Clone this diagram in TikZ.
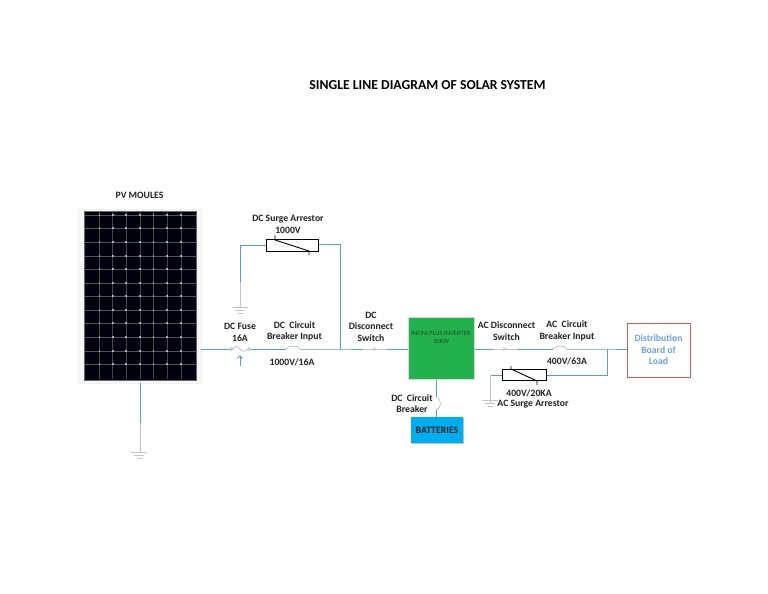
\documentclass[tikz,border=0pt]{standalone}
\usepackage{fontspec}
\setmainfont{Carlito}
\usetikzlibrary{arrows.meta,shadows,calc}
\definecolor{wire}{HTML}{5B9BD5}
\definecolor{gnd}{HTML}{C4C4C4}
\definecolor{ink}{HTML}{222222}
\definecolor{invgreen}{HTML}{22B14C}
\definecolor{batblue}{HTML}{00AEEF}
\definecolor{dbred}{HTML}{C0605A}
\definecolor{dbtext}{HTML}{6FA3D8}
\tikzset{
  lbl/.style={font=\bfseries\fontsize{9.7}{11.6}\selectfont,text=ink,align=center,inner sep=0pt},
  wireline/.style={draw=wire,line width=0.85pt},
  gndline/.style={draw=gnd,line width=0.8pt},
  switchline/.style={draw=gnd,line width=0.8pt},
  arrestor/.style={draw=black,line width=1pt,fill=white,inner sep=0pt,minimum height=11.5pt},
  softshadow/.style={drop shadow={shadow xshift=1.2pt,shadow yshift=-1.2pt,fill=black,opacity=.25}},
  panelgridv/.style={draw=white!28!black,line width=0.5pt},
  panelgridh/.style={draw=white!32!black,line width=0.5pt},
}
\begin{document}
\begin{tikzpicture}[x=1pt,y=-1pt]
\useasboundingbox[fill=white] (0,0) rectangle (768,594);

% title
\node[font=\bfseries\fontsize{13.7}{16}\selectfont,text=black,inner sep=0pt] (title) at (427.5,85) {SINGLE LINE DIAGRAM OF SOLAR SYSTEM};

% PV panel
\node[lbl] (pvlabel) at (139.5,195) {PV MOULES};
\node[draw=white!94!black,fill=white!97!black,line width=0.8pt,minimum width=123pt,minimum height=174pt,inner sep=0pt] (frame) at (139.5,296) {};
\node[fill=black!94!blue,draw=black!60,line width=1pt,minimum width=112pt,minimum height=169pt,inner sep=0pt] (pv) at (140.5,296) {};
\foreach \gx in {99.3,112.7,126,140,153.3,167,181}
  \draw[panelgridv] (\gx,212) -- (\gx,379);
\foreach \gy in {215,228,242,256,269,283,296,310,323,337,351,364}
  \draw[panelgridh] (85,\gy) -- (196,\gy);
\foreach \gx in {99.3,112.7,126,140,153.3,167,181}
  \foreach \gy in {215,228,242,256,269,283,296,310,323,337,351,364}
    \fill[white!68!black] (\gx-0.8,\gy-0.6) rectangle (\gx+0.8,\gy+0.6);

% coordinates on the DC line
\coordinate (pvout) at (201,349);
\coordinate (fuseL) at (231.5,349);
\coordinate (fuseR) at (249,349);
\coordinate (cbL) at (286,349);
\coordinate (cbR) at (300,349);
\coordinate (jdc) at (340,349);
\coordinate (swL) at (363,349);
\coordinate (swR) at (387,349);
\coordinate (pvbot) at (140,383);
\coordinate (pvmid) at (140,423);
\coordinate (pvgnd) at (140,452.5);

% inverter, batteries, load
\node[fill=invgreen,draw=white!85!black,line width=0.5pt,minimum width=66pt,minimum height=62.5pt,inner sep=0pt,softshadow] (inv) at (441,348) {};
\node[font=\fontsize{6.6}{7.6}\selectfont,text=ink!70!invgreen,align=center,inner sep=0pt] (invtext) at (441,337.5) {INFINI PLUS INVERTER\\10KW};
\node[fill=batblue,minimum width=52pt,minimum height=26pt,inner sep=0pt,softshadow,
      font=\bfseries\fontsize{9.8}{11}\selectfont,text=ink] (bat) at (437,430) {BATTERIES};
\node[fill=white,draw=dbred,line width=0.9pt,minimum width=63pt,minimum height=54pt,inner sep=0pt,align=center,softshadow,
      font=\bfseries\fontsize{9.7}{11.6}\selectfont,text=dbtext] (db) at (658.5,350) {Distribution\\Board of\\Load};

% DC line
\draw[wireline] (pvout) -- (fuseL);
\draw[switchline] (fuseL) circle (1.5pt);
\draw[switchline] (fuseR) circle (1.5pt);
\draw[switchline] ($(fuseL)+(1.5,0)$) .. controls (235,345) and (238,346) .. (240,349) .. controls (242,352) and (245,352) .. ($(fuseR)+(-1.5,0)$);
\draw[wireline] ($(fuseR)+(1.5,0)$) -- (cbL);
\draw[switchline] (cbL) .. controls (288,345) and (298,345) .. (cbR);
\draw[wireline] (cbR) -- (jdc) -- (swL);
\draw[switchline] (swL) -- (swR);
\draw[switchline] (373,347.5) -- (376,349) -- (373,350.5);
\draw[wireline] (swR) -- (inv.west |- swR);

% fuse arrow
\coordinate (arrS) at (240,366);
\coordinate (arrE) at (240,355);
\draw[wireline,-{Straight Barb[length=3pt,width=5pt]}] (arrS) -- (arrE);

% PV earth
\draw[wireline] (pvbot) -- (pvmid);
\draw[gndline] (pvmid) -- (pvgnd);
\draw[gndline] (131,452.7) -- (147,452.7) (134,455.3) -- (144,455.3) (137,458) -- (142,458);

% DC surge arrestor
\node[arrestor,minimum width=52pt] (dcsa) at (292,245.5) {};
\draw[black,line width=0.9pt] (275,235) -- (275,240) -- (309,251) -- (309,255);
\coordinate (dcsaC) at (340,244);
\coordinate (dcsaL) at (240,245);
\coordinate (dcsaM) at (240,282);
\coordinate (dcsaG) at (240,307.5);
\draw[wireline] (jdc) -- (dcsaC) -- (dcsa.east |- dcsaC);
\draw[wireline] (dcsa.west |- dcsaL) -- (dcsaL) -- (dcsaM);
\draw[gndline] (dcsaM) -- (dcsaG);
\draw[gndline] (232,307.7) -- (248,307.7) (235,310.5) -- (245,310.5) (238,313) -- (243,313);

% AC line
\coordinate (acswL) at (493,349);
\coordinate (acswR) at (518,349);
\coordinate (accbL) at (553,349);
\coordinate (accbR) at (567,349);
\coordinate (jac) at (607,349);
\coordinate (jacB) at (607,375);
\coordinate (acgL) at (490,375);
\coordinate (acgG) at (490,403);
\draw[wireline] (inv.east |- acswL) -- (acswL);
\draw[switchline] (acswL) -- (acswR);
\draw[switchline] (503,347.5) -- (506,349) -- (503,350.5);
\draw[wireline] (acswR) -- (accbL);
\draw[switchline] (accbL) .. controls (555,345) and (565,345) .. (accbR);
\draw[wireline] (accbR) -- (jac) -- (db.west |- jac);

% AC surge arrestor
\node[arrestor,minimum width=44pt] (acsa) at (524,375) {};
\draw[black,line width=0.9pt] (511,366) -- (511,369) -- (537,381) -- (537,385);
\draw[wireline] (jac) -- (jacB) -- (acsa.east);
\draw[wireline] (acsa.west) -- (acgL);
\draw[gndline] (acgL) -- (acgG);
\draw[gndline] (482,400.7) -- (498,400.7) (485,403.3) -- (495,403.3) (488,406) -- (493,406);

% battery breaker
\coordinate (bbT) at (436,397);
\coordinate (bbB) at (436,410);
\draw[wireline] (inv.south -| bbT) -- (bbT);
\draw[switchline] (bbT) .. controls (442,399) and (442,408) .. (bbB);
\draw[wireline] (bbB) -- (bat.north -| bbB);

% labels
\node[lbl] (l1) at (288,224.5) {DC Surge Arrestor\\1000V};
\node[lbl] (l2) at (240,332.5) {DC Fuse\\16A};
\node[lbl] (l3) at (294.5,331.5) {DC\ \ Circuit\\Breaker Input};
\node[lbl] (l4) at (292,362) {1000V/16A};
\node[lbl] (l5) at (371,326.5) {DC\\Disconnect\\Switch};
\node[lbl] (l6) at (506.5,331) {AC Disconnect\\Switch};
\node[lbl] (l7) at (567,331) {AC\ \ Circuit\\Breaker Input};
\node[lbl] (l8) at (567,361) {400V/63A};
\node[lbl] (l9) at (529,393) {400V/20KA};
\node[lbl] (l10) at (533,404) {AC Surge Arrestor};
\node[lbl] (l11) at (412,403.5) {DC\ \ Circuit\\Breaker};
\end{tikzpicture}
\end{document}
